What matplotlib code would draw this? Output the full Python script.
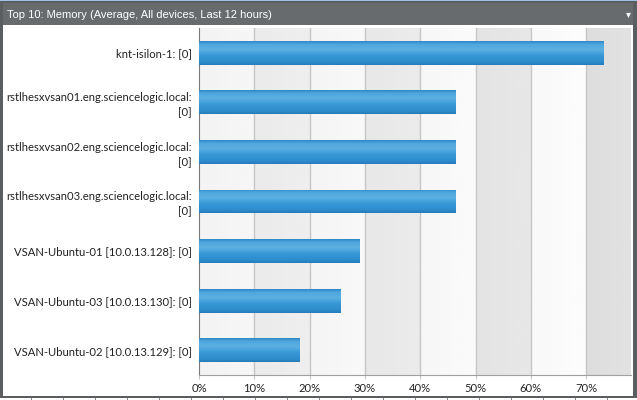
import matplotlib
matplotlib.use("Agg")
import matplotlib.pyplot as plt
import numpy as np
from matplotlib.colors import LinearSegmentedColormap
from matplotlib.patches import Rectangle

title = "Top 10: Memory (Average, All devices, Last 12 hours)"
devices = [
    "knt-isilon-1: [0]",
    "rstlhesxvsan01.eng.sciencelogic.local:\n[0]",
    "rstlhesxvsan02.eng.sciencelogic.local:\n[0]",
    "rstlhesxvsan03.eng.sciencelogic.local:\n[0]",
    "VSAN-Ubuntu-01 [10.0.13.128]: [0]",
    "VSAN-Ubuntu-03 [10.0.13.130]: [0]",
    "VSAN-Ubuntu-02 [10.0.13.129]: [0]",
]
memory_pct = [73.1, 46.3, 46.3, 46.3, 29.0, 25.5, 18.1]
x_ticks = [0, 10, 20, 30, 40, 50, 60, 70]
x_tick_labels = ["0%", "10%", "20%", "30%", "40%", "50%", "60%", "70%"]

W, H = 637, 400
fig = plt.figure(figsize=(W / 100, H / 100), dpi=100)
fig.patch.set_facecolor("white")

def frect(x, y, w, h, color, z=-9):
    # x, y, w, h in pixels from top-left
    fig.patches.append(Rectangle((x / W, 1 - (y + h) / H), w / W, h / H,
                                 transform=fig.transFigure, facecolor=color,
                                 edgecolor="none", zorder=z))

# frame and title bar
frect(0, 0, W, 398, "#5b5e61", z=-10)
frect(0, 0, W, 1, "#9cc3e4")
frect(3, 25, W - 7, 371, "white")
frect(3, 3, W - 7, 22, "#676b6e")
for px in range(31, W, 32):
    frect(px, 398, 1, 2, "#8a8a8a")
fig.text(7 / W, 1 - 14.5 / H, title, color="white", fontsize=8,
         family="Liberation Sans", va="center", ha="left")
fig.text(628 / W, 1 - 14 / H, "\u25BE", color="white", fontsize=7,
         va="center", ha="center")

ax = fig.add_axes([199 / W, 25 / H, 432 / W, 347 / H])
xmax = 78.1
n = len(devices)
ys = np.arange(n)[::-1]

# background bands
light = ["#f6f6f6", "#f8f8f8", "#fafafa", "#fcfcfc"]
dark = ["#eeeeee", "#ebebeb", "#e7e7e7", "#e1e1e1"]
for i in range(8):
    x0 = i * 10
    x1 = min(x0 + 10, xmax)
    base = light[i // 2] if i % 2 == 0 else dark[i // 2]
    c = np.array(matplotlib.colors.to_rgb(base))
    grad = np.stack([c * 0.99, c]).reshape(1, 2, 3)
    ax.imshow(np.clip(grad, 0, 1), extent=(x0, x1, -0.5, n - 0.5),
              aspect="auto", interpolation="bilinear", zorder=0)

for x in x_ticks[1:]:
    ax.axvline(x, color="#c6c6c6", lw=1, zorder=1)

cmap = LinearSegmentedColormap.from_list(
    "bar", [(0, "#2d88c8"), (0.12, "#4ea6dc"), (0.35, "#5cb0e1"),
            (0.6, "#3899d6"), (0.9, "#2d8bcb"), (1.0, "#267bba")])
grad = cmap(np.linspace(0, 1, 64)).reshape(64, 1, 4)
h = 0.48
bars = ax.barh(ys, memory_pct, height=h, color="#3190d0", zorder=2,
               edgecolor="none")
for b, y, v in zip(bars, ys, memory_pct):
    im = ax.imshow(grad, extent=(0, v, y - h / 2, y + h / 2), origin="upper",
                   aspect="auto", interpolation="bilinear", zorder=3)
    im.set_clip_path(b)

ax.set_xlim(0, xmax)
ax.set_ylim(-0.5, n - 0.5)
ax.set_yticks(ys)
ax.set_yticklabels(devices, fontsize=8.1, color="#222222",
                   family="Lato", linespacing=1.45)
ax.set_xticks(x_ticks)
ax.set_xticklabels(x_tick_labels, fontsize=8.1, color="#222222",
                   family="Lato")
ax.tick_params(axis="y", length=0, pad=5)
ax.tick_params(axis="x", length=3, color="#c6c6c6", pad=3)
for s in ["top", "right"]:
    ax.spines[s].set_visible(False)
ax.spines["left"].set_color("#7a7a7a")
ax.spines["bottom"].set_color("#a0a0a0")

fig.savefig("out.png", dpi=100, facecolor=fig.get_facecolor())
